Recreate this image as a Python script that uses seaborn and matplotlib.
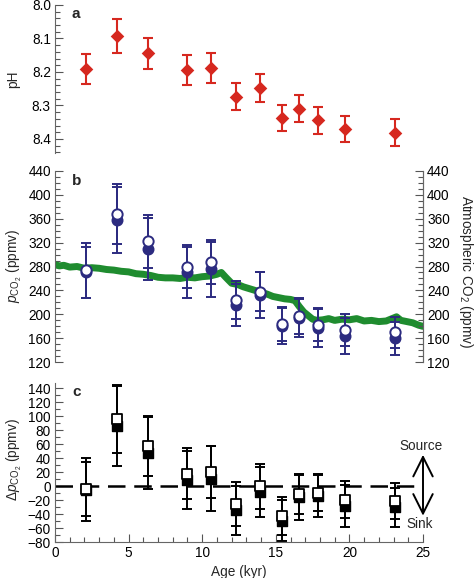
import matplotlib
matplotlib.use("Agg")
import matplotlib.pyplot as plt
import seaborn as sns
from matplotlib.ticker import MultipleLocator, FormatStrFormatter

# ─── Data ───────────────────────────────────────────────────────────────────
age = [2.1, 4.2, 6.3, 9.0, 10.6, 12.3, 13.9, 15.4, 16.6, 17.9, 19.7, 23.1]

ph = [8.191, 8.092, 8.144, 8.194, 8.187, 8.274, 8.249, 8.337, 8.310, 8.344, 8.371, 8.381]
ph_err = [0.045, 0.050, 0.046, 0.045, 0.045, 0.041, 0.042, 0.039, 0.040, 0.040, 0.039, 0.040]

pco2_filled = [270, 357, 309, 270, 275, 215, 232, 180, 194, 178, 164, 160]
pco2_filled_err = [42, 55, 52, 42, 46, 35, 38, 30, 31, 32, 30, 28]
pco2_open = [274, 368, 322, 280, 288, 224, 238, 184, 198, 182, 174, 170]
pco2_open_err = [46, 50, 44, 36, 37, 31, 33, 28, 30, 27, 26, 26]

dp_filled = [-5, 86, 48, 9, 11, -34, -8, -49, -16, -14, -28, -30]
dp_filled_err = [45, 57, 52, 42, 46, 35, 36, 29, 32, 30, 30, 28]
dp_open = [-4, 96, 57, 18, 20, -25, 0, -43, -11, -9, -19, -21]
dp_open_err = [38, 48, 42, 36, 37, 31, 32, 27, 29, 27, 26, 25]

atm_age = [0.0, 0.3, 0.6, 1.0, 1.5, 2.0, 2.5, 3.0, 3.5, 4.0, 4.5, 5.0, 5.5, 6.0,
           6.5, 7.0, 7.5, 8.0, 8.5, 9.0, 9.5, 10.0, 10.5, 11.0, 11.3, 11.6, 12.0,
           12.4, 12.8, 13.2, 13.6, 14.0, 14.4, 14.8, 15.2, 15.6, 16.0, 16.3, 16.6,
           16.9, 17.2, 17.5, 17.8, 18.2, 18.6, 19.0, 19.5, 20.0, 20.5, 21.0, 21.5,
           22.0, 22.5, 23.0, 23.2, 23.5, 23.9, 24.3, 24.7, 25.0]
atm_co2 = [283, 281, 282, 279, 280, 277, 278, 277, 275, 274, 272, 271, 268, 267,
           265, 262, 261, 261, 260, 262, 261, 263, 264, 267, 270, 262, 252,
           250, 246, 243, 240, 237, 234, 230, 228, 226, 225, 223, 213,
           204, 198, 192, 190, 191, 193, 190, 192, 191, 193, 189, 190,
           188, 189, 194, 196, 190, 188, 186, 182, 180]

# ─── Style ──────────────────────────────────────────────────────────────────
RED = "#d6281f"
NAVY = "#2c2b80"
GREEN = "#1f8c2f"
FS = 9.8

sns.set_style("ticks")
plt.rcParams["font.family"] = ["Liberation Sans", "DejaVu Sans"]
plt.rcParams["font.size"] = FS
plt.rcParams["mathtext.fontset"] = "custom"
plt.rcParams["mathtext.rm"] = "Liberation Sans"
plt.rcParams["mathtext.it"] = "Liberation Sans:italic"

W, H = 474, 578
fig = plt.figure(figsize=(W / 100, H / 100), dpi=100)
x0, w = 55 / W, 368 / W
ax_a = fig.add_axes([x0, 1 - 153 / H, w, 148 / H])
ax_b = fig.add_axes([x0, 1 - 362.3 / H, w, 191.6 / H])
ax_c = fig.add_axes([x0, 1 - 542.3 / H, w, 159.6 / H])


def style_axis(ax):
    ax.set_facecolor("none")
    ax.tick_params(axis="both", which="both", direction="in", colors="#555555",
                   labelcolor="black", labelsize=FS, pad=3)
    ax.tick_params(which="major", length=6, width=0.8)
    ax.tick_params(which="minor", length=3.5, width=0.8)
    for sp in ax.spines.values():
        sp.set_color("#666666")
        sp.set_linewidth(0.8)
    ax.set_xlim(0, 25)


def ylabel_at(x_px, y_px, text, rot=90):
    fig.text(x_px / W, 1 - y_px / H, text, rotation=rot, ha="center",
             va="center", fontsize=FS)


# ─── a: pH ──────────────────────────────────────────────────────────────────
style_axis(ax_a)
ax_a.errorbar(age, ph, yerr=ph_err, fmt="none", ecolor=RED, elinewidth=1.5,
              capsize=3.5, capthick=1.5, zorder=2)
sns.scatterplot(x=age, y=ph, ax=ax_a, marker="D", s=48, color=RED,
                edgecolor=RED, linewidth=0, zorder=3)
ax_a.set_ylim(8.442, 8.0)
ax_a.yaxis.set_major_locator(MultipleLocator(0.1))
ax_a.yaxis.set_minor_locator(MultipleLocator(0.02))
ax_a.yaxis.set_major_formatter(FormatStrFormatter("%.1f"))
ax_a.set_xticks([])
for s in ["top", "right", "bottom"]:
    ax_a.spines[s].set_visible(False)
ylabel_at(13, 79, "pH")
ax_a.text(0.046, 0.985, "a", transform=ax_a.transAxes, fontweight="bold",
          fontsize=11, va="top", ha="left")

# ─── b: pCO2 ────────────────────────────────────────────────────────────────
style_axis(ax_b)
sns.lineplot(x=atm_age, y=atm_co2, ax=ax_b, color=GREEN, lw=5, zorder=1)
ax_b.errorbar(age, pco2_filled, yerr=pco2_filled_err, fmt="none", ecolor=NAVY,
              elinewidth=1.4, capsize=3.5, capthick=1.4, zorder=2)
ax_b.errorbar(age, pco2_open, yerr=pco2_open_err, fmt="none", ecolor=NAVY,
              elinewidth=1.4, capsize=3.5, capthick=1.4, zorder=2)
sns.scatterplot(x=age, y=pco2_filled, ax=ax_b, marker="o", s=55, color=NAVY,
                edgecolor=NAVY, linewidth=1.2, zorder=3)
sns.scatterplot(x=age, y=pco2_open, ax=ax_b, marker="o", s=55, color="white",
                edgecolor=NAVY, linewidth=1.4, zorder=4)
ax_b.set_ylim(120, 440)
ax_b.yaxis.set_major_locator(MultipleLocator(40))
ax_b.yaxis.set_minor_locator(MultipleLocator(10))
ax_b.set_xticks([])
for s in ["top", "bottom"]:
    ax_b.spines[s].set_visible(False)
ylabel_at(14, 266, r"$p_{\mathrm{CO_2}}$ (ppmv)")
ax_b.text(0.046, 0.985, "b", transform=ax_b.transAxes, fontweight="bold",
          fontsize=11, va="top", ha="left")

ax_r = ax_b.twinx()
style_axis(ax_r)
ax_r.set_ylim(120, 440)
ax_r.yaxis.set_major_locator(MultipleLocator(40))
ax_r.yaxis.set_minor_locator(MultipleLocator(10))
for s in ["top", "bottom", "left"]:
    ax_r.spines[s].set_visible(False)
ylabel_at(466, 272, r"Atmospheric CO$_2$ (ppmv)", rot=270)

# ─── c: delta pCO2 ──────────────────────────────────────────────────────────
style_axis(ax_c)
ax_c.axhline(0, color="black", lw=1.8, dashes=(7, 3.5), zorder=1)
ax_c.errorbar(age, dp_filled, yerr=dp_filled_err, fmt="none", ecolor="black",
              elinewidth=1.4, capsize=3.5, capthick=1.4, zorder=2)
ax_c.errorbar(age, dp_open, yerr=dp_open_err, fmt="none", ecolor="black",
              elinewidth=1.4, capsize=3.5, capthick=1.4, zorder=2)
sns.scatterplot(x=age, y=dp_filled, ax=ax_c, marker="s", s=48, color="black",
                edgecolor="black", linewidth=1.0, zorder=3)
sns.scatterplot(x=age, y=dp_open, ax=ax_c, marker="s", s=48, color="white",
                edgecolor="black", linewidth=1.3, zorder=4)
ax_c.set_ylim(-80, 148)
ax_c.yaxis.set_minor_locator(MultipleLocator(10))
ax_c.xaxis.set_major_locator(MultipleLocator(5))
ax_c.xaxis.set_minor_locator(MultipleLocator(1))
for s in ["top", "right"]:
    ax_c.spines[s].set_visible(False)
ax_c.set_yticks(range(-80, 141, 20))
ax_c.set_yticklabels([str(v).replace("-", "\u2212") for v in range(-80, 141, 20)])
ylabel_at(14, 460, r"$\Delta p_{\mathrm{CO_2}}$ (ppmv)")
ax_c.set_xlabel("Age (kyr)", fontsize=FS, labelpad=3)
ax_c.text(0.046, 0.985, "c", transform=ax_c.transAxes, fontweight="bold",
          fontsize=11, va="top", ha="left")

ax_c.annotate("", xy=(25, -42), xytext=(25, 45), annotation_clip=False,
              arrowprops=dict(arrowstyle="<->,head_length=0.7,head_width=0.35",
                              color="black", lw=1.4, mutation_scale=20,
                              shrinkA=0, shrinkB=0))
ax_c.text(24.9, 57, "Source", ha="center", va="center", fontsize=FS)
ax_c.text(24.75, -54, "Sink", ha="center", va="center", fontsize=FS)

fig.savefig("out.png", dpi=100)
